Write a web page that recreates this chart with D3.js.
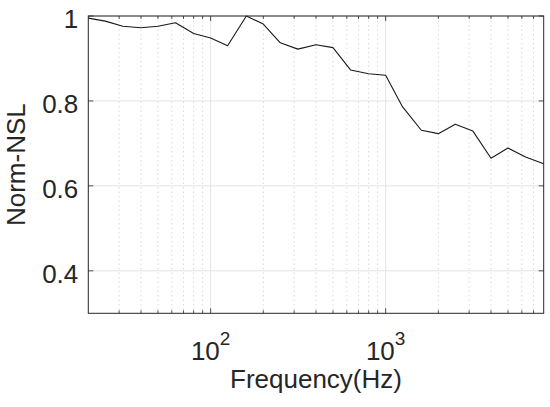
<!DOCTYPE html>
<html>
<head>
<meta charset="utf-8">
<script src="https://cdn.jsdelivr.net/npm/d3@7"></script>
<style>
	body { margin: 0; background: #fff; }
	text { font-family: "Liberation Sans", Arial, sans-serif; fill: #262626; }
</style>
</head>
<body>
<div id="chart"></div>
<script>
"use strict";

// third-octave band centres (Hz)
var freqs = [20, 25, 31.5, 40, 50, 63, 80, 100, 125, 160, 200, 250, 315, 400, 500,
	630, 800, 1000, 1250, 1600, 2000, 2500, 3150, 4000, 5000, 6300, 8000];
// normalised NSL
var nsl = [0.995, 0.988, 0.976, 0.9725, 0.976, 0.984, 0.959, 0.948, 0.930, 1.0, 0.981,
	0.937, 0.922, 0.9325, 0.9255, 0.873, 0.864, 0.8605, 0.786, 0.731, 0.723, 0.745,
	0.729, 0.665, 0.689, 0.668, 0.652];

var yTicks = [0.4, 0.6, 0.8, 1];
var yTickLabels = ["0.4", "0.6", "0.8", "1"];
var xTicks = [100, 1000];
var xTickExp = ["2", "3"];
var xLabel = "Frequency(Hz)";
var yLabel = "Norm-NSL";

var W = 550, H = 407;
var margin = { top: 16, right: 6.3, bottom: 93.7, left: 88.3 },
	width = W - margin.left - margin.right,
	height = H - margin.top - margin.bottom;

var svg = d3.select("#chart").append("svg")
	.attr("width", W)
	.attr("height", H);

var g = svg.append("g")
	.attr("transform", "translate(" + margin.left + "," + margin.top + ")");

var x = d3.scaleLog().domain([20, 8000]).range([0, width]);
var y = d3.scaleLinear().domain([0.3, 1]).range([height, 0]);

// minor positions: 2..9 x each decade, inside the domain
var minor = [];
[10, 100, 1000].forEach(function (dec) {
	for (var k = 2; k <= 9; k++) {
		var v = dec * k;
		if (v > 20 && v < 8000) minor.push(v);
	}
});

// grid
g.selectAll(".minor-grid").data(minor).enter().append("line")
	.attr("x1", function (d) { return x(d); })
	.attr("x2", function (d) { return x(d); })
	.attr("y1", 0).attr("y2", height)
	.attr("stroke", "#cfcfcf")
	.attr("stroke-width", 0.8)
	.attr("stroke-dasharray", "1.5,3");

g.selectAll(".xgrid").data(xTicks).enter().append("line")
	.attr("x1", function (d) { return x(d); })
	.attr("x2", function (d) { return x(d); })
	.attr("y1", 0).attr("y2", height)
	.attr("stroke", "#e3e3e3")
	.attr("stroke-width", 1);

g.selectAll(".ygrid").data(yTicks).enter().append("line")
	.attr("x1", 0).attr("x2", width)
	.attr("y1", function (d) { return y(d); })
	.attr("y2", function (d) { return y(d); })
	.attr("stroke", "#e3e3e3")
	.attr("stroke-width", 1);

// inward ticks on all four sides (box on)
var tickCol = "#262626";
function vTicks(vals, len, yEdge, dir) {
	g.append("g").selectAll("line").data(vals).enter().append("line")
		.attr("x1", function (d) { return x(d); })
		.attr("x2", function (d) { return x(d); })
		.attr("y1", yEdge).attr("y2", yEdge + dir * len)
		.attr("stroke", tickCol).attr("stroke-width", 0.8);
}
vTicks(minor, 3, height, -1);
vTicks(minor, 3, 0, 1);
vTicks(xTicks, 5, height, -1);
vTicks(xTicks, 5, 0, 1);

function hTicks(xEdge, dir) {
	g.append("g").selectAll("line").data(yTicks).enter().append("line")
		.attr("y1", function (d) { return y(d); })
		.attr("y2", function (d) { return y(d); })
		.attr("x1", xEdge).attr("x2", xEdge + dir * 5)
		.attr("stroke", tickCol).attr("stroke-width", 0.8);
}
hTicks(0, 1);
hTicks(width, -1);

// data line
var line = d3.line()
	.x(function (d, i) { return x(freqs[i]); })
	.y(function (d) { return y(d); });

g.append("path")
	.datum(nsl)
	.attr("d", line)
	.attr("fill", "none")
	.attr("stroke", "#1a1a1a")
	.attr("stroke-width", 1.1)
	.attr("stroke-linejoin", "round");

// axes box
g.append("rect")
	.attr("x", 0).attr("y", 0)
	.attr("width", width).attr("height", height)
	.attr("fill", "none")
	.attr("stroke", tickCol)
	.attr("stroke-width", 1);

// y tick labels
g.selectAll(".ylab").data(yTicks).enter().append("text")
	.attr("x", -10)
	.attr("y", function (d) { return y(d) + 12; })
	.attr("text-anchor", "end")
	.style("font-size", "26px")
	.text(function (d, i) { return yTickLabels[i]; });

// x tick labels, 10^n
var xl = g.selectAll(".xlab").data(xTicks).enter().append("text")
	.attr("x", function (d) { return x(d); })
	.attr("y", height + 46.5)
	.attr("text-anchor", "middle")
	.style("font-size", "26px");
xl.append("tspan").text("10");
xl.append("tspan")
	.attr("dy", -15)
	.style("font-size", "19px")
	.text(function (d, i) { return xTickExp[i]; });

// axis titles
g.append("text")
	.attr("x", width / 2)
	.attr("y", height + 75)
	.attr("text-anchor", "middle")
	.style("font-size", "26px")
	.text(xLabel);

svg.append("text")
	.attr("transform", "translate(25," + (margin.top + height / 2) + ") rotate(-90)")
	.attr("text-anchor", "middle")
	.style("font-size", "26px")
	.text(yLabel);
</script>
</body>
</html>
